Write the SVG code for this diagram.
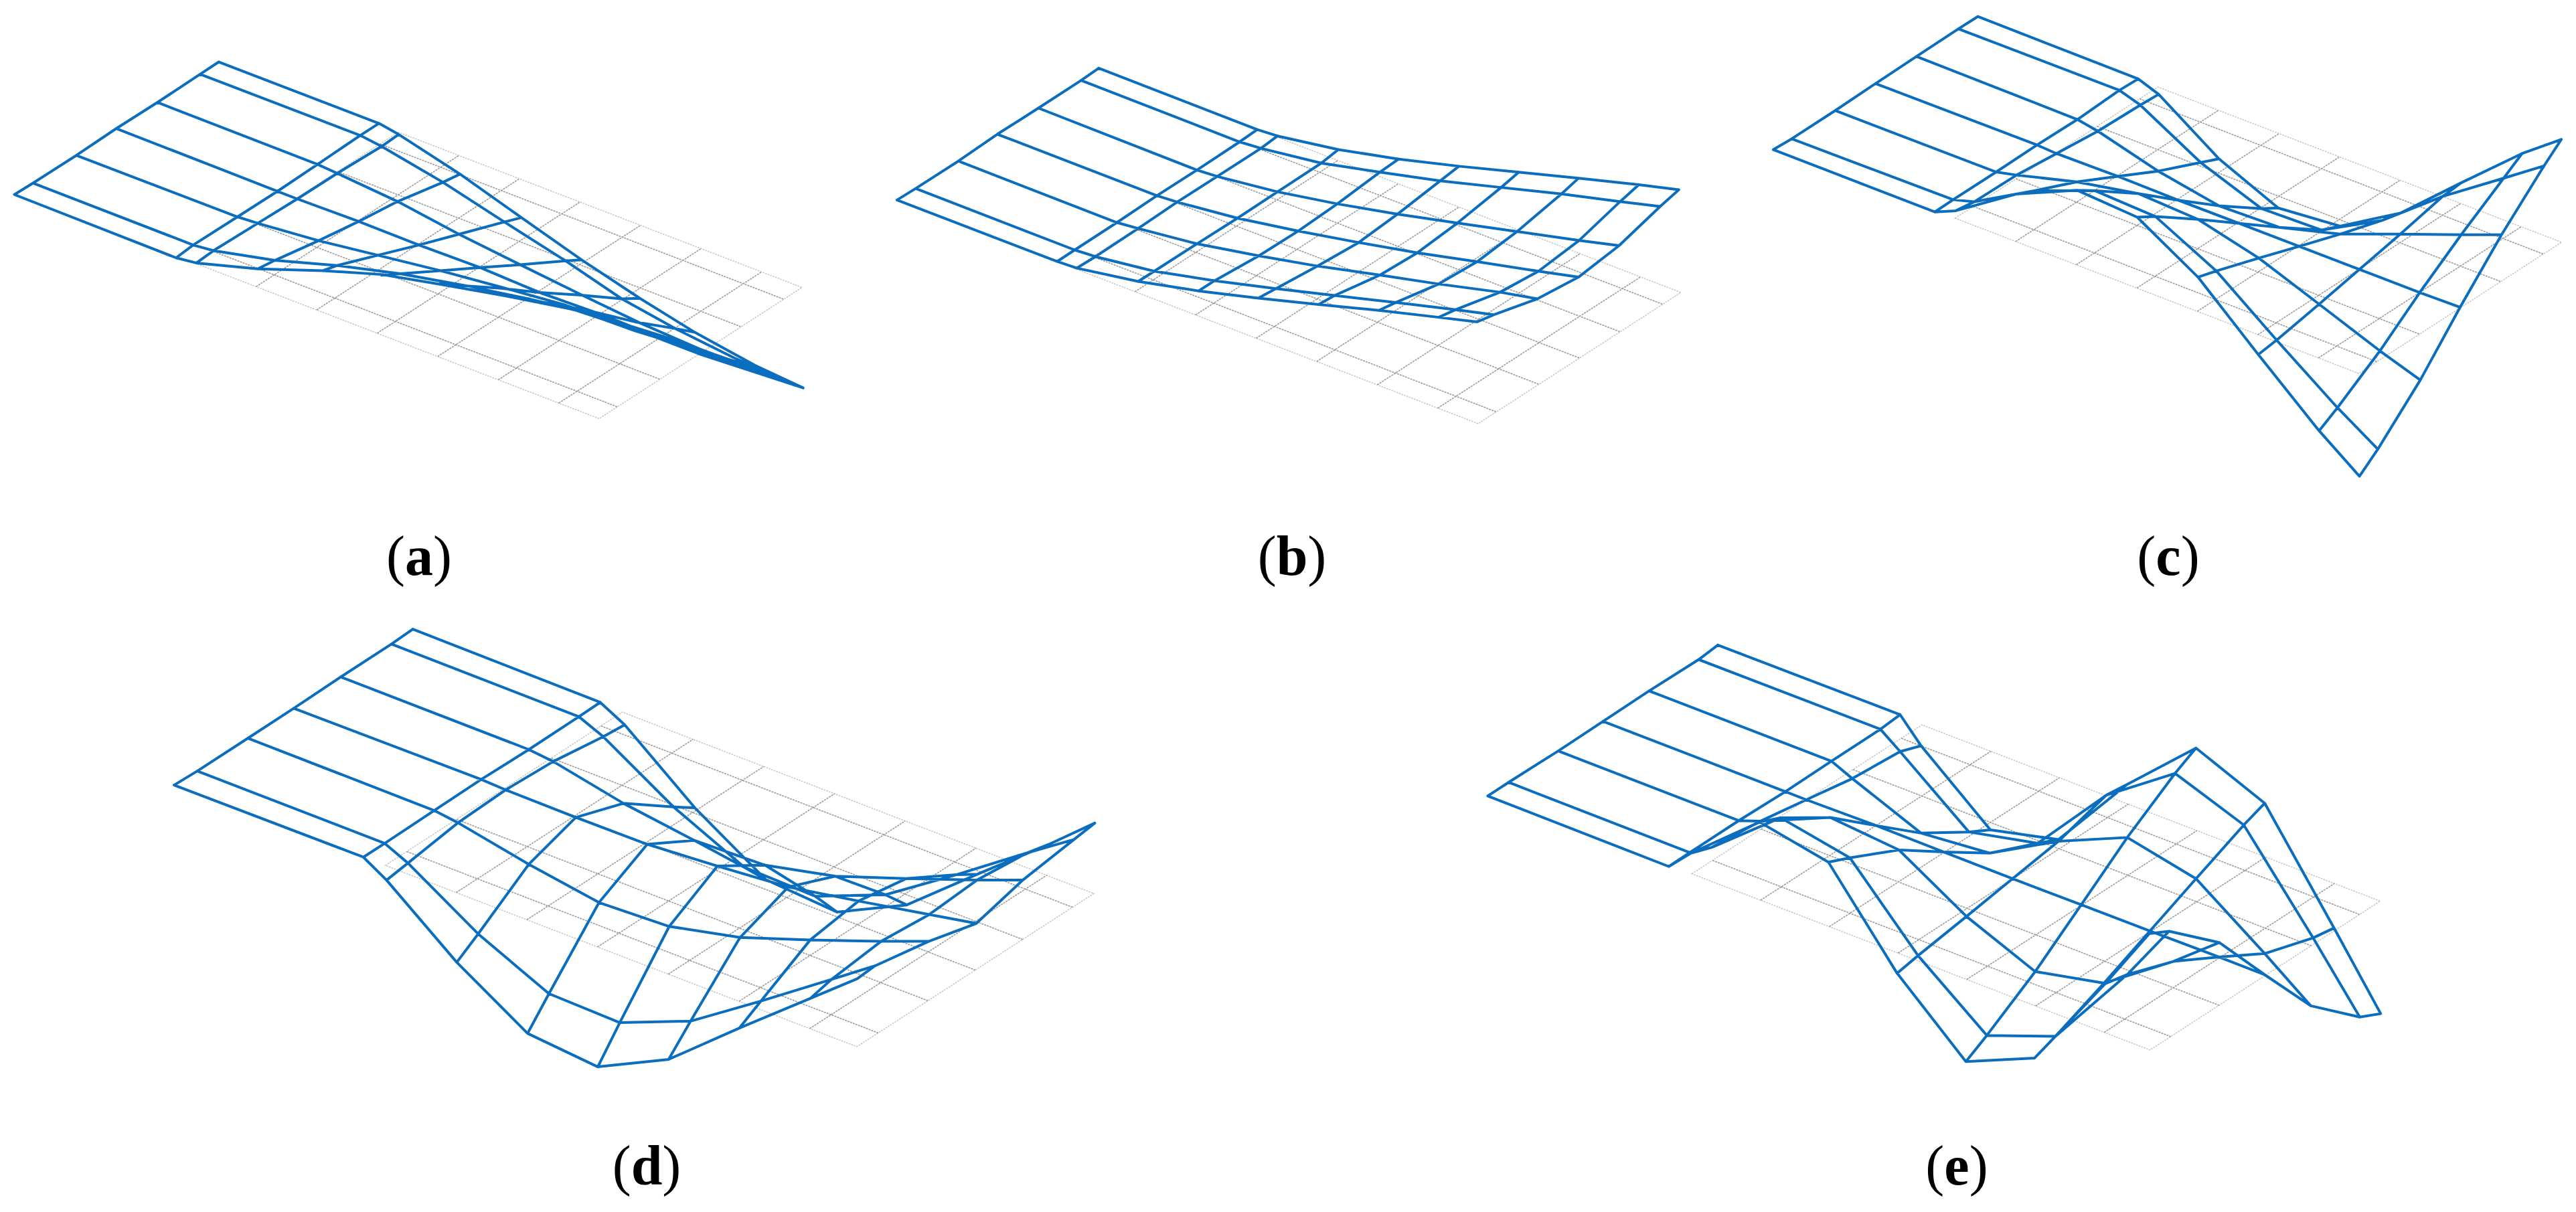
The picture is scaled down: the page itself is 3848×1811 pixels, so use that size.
<svg xmlns="http://www.w3.org/2000/svg" xmlns:xlink="http://www.w3.org/1999/xlink" width="3848" height="1811" viewBox="0 0 3848 1811">
<style>
.bg{fill:#fff}
.edge{fill:none;stroke:#c4c4c4;stroke-width:1.5;stroke-dasharray:2.5 1.5;vector-effect:non-scaling-stroke}
.inner{fill:none;stroke:#9c9c9c;stroke-width:1.6;stroke-dasharray:3 1.2;vector-effect:non-scaling-stroke}
.mesh{fill:none;stroke:#0b6dbd;stroke-width:4;stroke-linejoin:round;stroke-linecap:round;vector-effect:non-scaling-stroke}
text{font-family:"Liberation Serif","Times New Roman",serif;font-size:84px;fill:#000;text-anchor:middle}
.b{font-weight:bold}
</style>
<defs>
<g id="grid">
<path class="edge" d="M0 0l303 -196l603 232l-303 196z"/>
<path class="inner" d="M90.5 34.8l303 -196M180.9 69.6l303 -196M271.4 104.4l303 -196M361.8 139.2l303 -196M452.3 174l303 -196M542.7 208.8l303 -196M27.3 -17.6l603 232M90.9 -58.8l603 232M151.5 -98l603 232M212.1 -137.2l603 232M275.7 -178.4l603 232"/>
</g>
</defs>
<rect class="bg" width="3848" height="1811"/>
<g id="panel-a">
<use href="#grid" transform="translate(292 393.5)"/>
<path class="mesh" transform="translate(0 60) scale(.7972 .38265)" d="M27 603 62 558 143 450 218 345 295 243 375 133 410 85M330 850 362 800 445 690 520 590 595 485 675 372 710 325M368 870 400 822 483 715 557 620 632 520 715 415 747 368M483 893 515 860 597 783 672 708 745 630 830 555 862 523M605 900 632 880 708 840 785 800 860 758 945 710 977 693M715 918 750 912 825 900 900 888 975 877 1060 862 1090 858M825 950 860 958 935 968 1010 985 1085 995 1165 1010 1199 1008M945 990 980 1010 1050 1035 1120 1065 1190 1100 1265 1126 1302 1141M1075 1052 1130 1090 1190 1135 1260 1180 1320 1220 1385 1258 1415 1270M27 603 330 850 368 870 483 893 605 900 715 915 830 955 950 1000 1075 1052 1235 1155 1366 1254 1505 1358M62 558 362 800 400 822 515 860 632 880 750 912 870 958 990 1010 1110 1070 1240 1155 1370 1250 1505 1358M143 450 445 690 483 715 597 783 708 840 825 900 940 965 1060 1035 1185 1125 1310 1225 1505 1358M218 345 520 590 557 620 672 708 785 800 900 888 1010 985 1125 1070 1240 1165 1370 1260 1505 1358M295 243 595 485 632 520 745 630 860 758 975 877 1090 995 1200 1105 1310 1205 1400 1275 1505 1358M375 133 675 372 715 415 830 555 945 710 1060 862 1165 1010 1265 1126 1375 1240 1505 1358M410 85 710 325 747 368 862 523 977 693 1090 858 1199 1008 1302 1141 1415 1270 1505 1358"/>
<text x="626" y="859">(<tspan class="b">a</tspan>)</text>
</g>
<g id="panel-b">
<use href="#grid" transform="translate(1605 401)"/>
<path class="mesh" transform="translate(1320 80) scale(.7972 .38265)" d="M25 572 60 527 140 420 213 315 290 213 370 105 403 57M325 812 358 767 437 660 512 555 587 455 667 345 700 297M362 838 397 793 477 683 550 580 625 480 707 370 738 322M477 890 507 850 587 743 663 643 738 540 820 428 852 375M590 927 620 887 703 790 777 693 850 587 930 463 965 412M702 955 735 918 813 830 890 738 963 627 1043 497 1078 440M815 980 845 945 930 865 1000 778 1075 662 1157 523 1190 463M928 1003 960 972 1040 900 1112 813 1187 695 1270 548 1302 487M1040 1030 1072 1000 1155 932 1227 850 1303 730 1380 578 1415 512M1112 1048 1143 1020 1225 958 1302 873 1378 750 1455 597 1490 532M25 572 325 812 362 838 477 890 590 927 702 955 815 980 928 1003 1040 1030 1112 1048M60 527 358 767 397 793 507 850 620 887 735 918 845 945 960 972 1072 1000 1143 1020M140 420 437 660 477 683 587 743 703 790 813 830 930 865 1040 900 1155 932 1225 958M213 315 512 555 550 580 663 643 777 693 890 738 1000 778 1112 813 1227 850 1302 873M290 213 587 455 625 480 738 540 850 587 963 627 1075 662 1187 695 1303 730 1378 750M370 105 667 345 707 370 820 428 930 463 1043 497 1157 523 1270 548 1380 578 1455 597M403 57 700 297 738 322 852 375 965 412 1078 440 1190 463 1302 487 1415 512 1490 532"/>
<text x="1930" y="859">(<tspan class="b">b</tspan>)</text>
</g>
<g id="panel-c">
<use href="#grid" transform="translate(2920.5 326)"/>
<path class="mesh" transform="translate(2620 10) scale(.78316 .45918)" d="M37 465 72 430 155 338 232 250 310 162 390 72 427 32M345 668 380 628 462 538 540 450 617 367 697 272 733 235M385 664 420 635 501 548 577 478 656 405 737 320 772 285M500 610 535 599 616 570 694 552 771 535 852 507 887 495M616 597 651 599 733 608 810 630 887 648 968 657 1000 655M731 685 766 683 847 692 925 705 1002 718 1083 727 1118 714M847 880 882 860 963 818 1040 780 1118 740 1199 695 1234 671M962 1132 997 1085 1078 968 1155 855 1233 740 1314 617 1349 573M1078 1380 1113 1305 1194 1120 1270 930 1349 742 1430 558 1465 478M1155 1528 1190 1440 1271 1215 1347 978 1426 742 1507 518 1540 432M37 465 345 668 385 664 500 610 616 597 731 685 847 880 962 1132 1078 1380 1155 1528M72 430 380 628 420 635 535 599 651 599 766 683 882 860 997 1085 1113 1305 1190 1440M155 338 462 538 501 548 616 570 733 608 847 692 963 818 1078 968 1194 1120 1271 1215M232 250 540 450 577 478 694 552 810 630 925 705 1040 780 1155 855 1270 930 1347 978M310 162 617 367 656 405 771 535 887 648 1002 718 1118 740 1233 740 1349 742 1426 742M390 72 697 272 737 320 852 507 968 657 1083 727 1199 695 1314 617 1430 558 1507 518M427 32 733 235 772 285 887 495 1000 655 1118 714 1234 671 1349 573 1465 478 1540 432"/>
<text x="3239" y="859">(<tspan class="b">c</tspan>)</text>
</g>
<g id="panel-d">
<use href="#grid" transform="translate(575.7 1293) scale(1.168)"/>
<path class="mesh" transform="translate(240 920) scale(.91199 .44643)" d="M22 567 60 520 143 410 218 310 295 205 378 95 413 45M332 808 367 762 448 652 525 548 603 448 685 338 720 290M370 885 405 828 487 693 565 583 643 488 725 405 760 365M485 1160 520 1065 603 832 680 675 758 628 840 640 875 643M601 1398 636 1265 718 960 797 765 874 752 956 842 991 883M716 1510 752 1362 833 1040 912 838 990 835 1072 939 1108 992M832 1485 868 1357 949 1077 1028 908 1105 872 1187 934 1222 968M948 1380 983 1290 1064 1085 1143 955 1221 880 1303 867 1338 865M1064 1281 1099 1217 1180 1090 1259 1000 1337 885 1419 794 1454 766M1141 1215 1170 1172 1258 1090 1336 1030 1412 885 1496 749 1530 694M22 567 332 808 370 885 485 1160 601 1398 716 1510 832 1485 948 1380 1064 1281 1141 1215M60 520 367 762 405 828 520 1065 636 1265 752 1362 868 1357 983 1290 1099 1217 1170 1172M143 410 448 652 487 693 603 832 718 960 833 1040 949 1077 1064 1085 1180 1090 1258 1090M218 310 525 548 565 583 680 675 797 765 912 838 1028 908 1143 955 1259 1000 1336 1030M295 205 603 448 643 488 758 628 874 752 990 835 1105 872 1221 880 1337 885 1412 885M378 95 685 338 725 405 840 640 956 842 1072 939 1187 934 1303 867 1419 794 1496 749M413 45 720 290 760 365 875 643 991 883 1108 992 1222 968 1338 865 1454 766 1530 694"/>
<text x="966" y="1770">(<tspan class="b">d</tspan>)</text>
</g>
<g id="panel-e">
<use href="#grid" transform="translate(2527.2 1305.6) scale(1.135)"/>
<path class="mesh" transform="translate(2200 940) scale(.89286 .43367)" d="M25 575 60 528 143 420 218 318 295 213 378 105 410 55M328 818 363 770 445 660 523 560 600 455 682 345 715 295M365 772 400 752 481 662 558 588 635 515 715 422 750 402M480 665 515 650 598 649 675 677 750 703 830 699 866 692M595 803 631 788 713 761 788 768 865 772 945 738 980 725M710 1186 745 1125 826 990 903 860 980 731 1060 572 1095 535M825 1490 860 1400 941 1180 1018 950 1095 718 1175 497 1210 410M940 1478 975 1403 1056 1220 1133 1040 1210 860 1290 675 1325 600M1058 1222 1095 1190 1172 1145 1249 1130 1325 1118 1406 1064 1441 1030M1132 1049 1165 1041 1249 1080 1325 1191 1402 1298 1484 1337 1519 1325M25 575 328 818 365 772 480 665 595 803 710 1186 825 1490 940 1478 1058 1222 1132 1049M60 528 363 770 400 752 515 650 631 788 745 1125 860 1400 975 1403 1095 1190 1165 1041M143 420 445 660 481 662 598 649 713 761 826 990 941 1180 1056 1220 1172 1145 1249 1080M218 318 523 560 558 588 675 677 788 768 903 860 1018 950 1133 1040 1249 1130 1325 1191M295 213 600 455 635 515 750 703 865 772 980 731 1095 718 1210 860 1325 1118 1402 1298M378 105 682 345 715 422 830 699 945 738 1060 572 1175 497 1290 675 1406 1064 1484 1337M410 55 715 295 750 402 866 692 980 725 1095 535 1210 410 1325 600 1441 1030 1519 1325"/>
<text x="2923" y="1770">(<tspan class="b">e</tspan>)</text>
</g>
</svg>
